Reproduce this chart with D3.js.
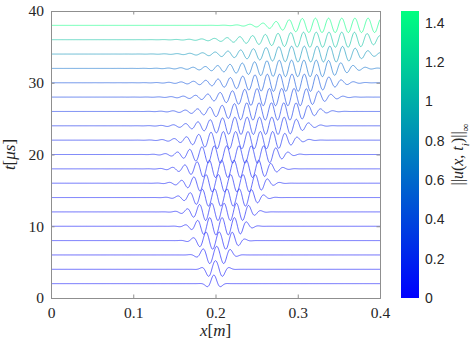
<!DOCTYPE html>
<html>
<head>
<meta charset="utf-8">
<script src="https://cdn.jsdelivr.net/npm/d3@7"></script>
<style>
  body { margin: 0; background: #fff; }
  svg { display: block; }
</style>
</head>
<body>
<svg id="chart" width="474" height="351"></svg>
<script>
// snapshot times (μs) of each trace
const times = [2, 4, 6, 8, 10, 12, 14, 16, 18, 20, 22, 24, 26, 28, 30, 32, 34, 36, 38];
// sup-norm of u for each trace (drives the colour)
const norms = [0.04, 0.04, 0.05, 0.05, 0.06, 0.07, 0.08, 0.09, 0.10, 0.12, 0.15, 0.19, 0.24, 0.31, 0.42, 0.6, 0.82, 1.1, 1.46];
// packet (m): where the full-height part starts / ends,
// how far the tails reach on each side, and the wavelength
const plateauStart = [0.198, 0.196, 0.193, 0.191, 0.191, 0.190, 0.190, 0.191, 0.193, 0.196, 0.208, 0.224, 0.242, 0.257, 0.271, 0.286, 0.300, 0.312, 0.317];
const plateauEnd = [0.198, 0.204, 0.210, 0.218, 0.225, 0.231, 0.238, 0.246, 0.252, 0.261, 0.271, 0.283, 0.294, 0.304, 0.315, 0.329, 0.347, 0.364, 0.390];
const tailLeft = [0.006, 0.0073, 0.0097, 0.0122, 0.0146, 0.017, 0.0195, 0.0219, 0.0243, 0.0268, 0.0316, 0.0365, 0.0413, 0.0462, 0.0523, 0.0572, 0.0608, 0.0608, 0.0389];
const tailRight = [0.006, 0.0073, 0.0085, 0.0097, 0.011, 0.0122, 0.0134, 0.0146, 0.0158, 0.017, 0.0195, 0.0207, 0.0219, 0.0243, 0.0255, 0.0268, 0.0292, 0.0316, 0.0365];
const wavelengths = [0.0195, 0.018, 0.017, 0.016, 0.015, 0.015, 0.015, 0.015, 0.015, 0.015, 0.015, 0.015, 0.015, 0.015, 0.015, 0.015, 0.0155, 0.0155, 0.016];
// plotted half height of each trace (t units)
const heights = [1.2, 1.2, 1.2, 1.2, 1.2, 1.2, 1.2, 1.2, 1.2, 1.2, 1.2, 1.2, 1.2, 1.2, 1.2, 1.15, 1.1, 1.05, 1.0];

const xTicks = [0, 0.1, 0.2, 0.3, 0.4];
const tTicks = [0, 10, 20, 30, 40];
const normTicks = [0, 0.2, 0.4, 0.6, 0.8, 1, 1.2, 1.4];
const normMax = 1.46;

const svg = d3.select("#chart");
const margin = { top: 11, left: 51 };
const innerW = 380 - margin.left;
const innerH = 298 - margin.top;

const x = d3.scaleLinear().domain([0, 0.4]).range([0, innerW]);
const y = d3.scaleLinear().domain([0, 40]).range([innerH, 0]);
const color = d3.scaleLinear().domain([0, normMax]).range(["#0000ff", "#00ff80"]);

const g = svg.append("g").attr("transform", `translate(${margin.left},${margin.top})`);

const axisColor = "#8f8f8f";
const serif = "'Liberation Serif', 'Times New Roman', serif";

// traces
const xs = d3.range(0, 0.4 + 1e-9, 0.0004);
const line = d3.line().x(d => x(d[0])).y(d => y(d[1]));

times.forEach((t, i) => {
    const a = plateauStart[i], b = plateauEnd[i];
    const mid = (a + b) / 2;
    const pts = xs.map(xv => {
        let env = 1;
        if (xv < a) env = Math.exp(-((xv - a) ** 2) / (2 * tailLeft[i] ** 2));
        else if (xv > b) env = Math.exp(-((xv - b) ** 2) / (2 * tailRight[i] ** 2));
        const u = heights[i] * env * Math.cos(2 * Math.PI * (xv - mid) / wavelengths[i]);
        return [xv, t + u];
    });
    g.append("path")
        .attr("d", line(pts))
        .attr("fill", "none")
        .attr("stroke", color(norms[i]))
        .attr("stroke-opacity", 0.6)
        .attr("stroke-width", 1);
});

// axes box (ticks inside, all four sides)
const tickLen = 3.5;
const axB = g.append("g").attr("transform", `translate(0,${innerH})`)
    .call(d3.axisBottom(x).tickValues(xTicks).tickSize(-tickLen).tickPadding(9).tickFormat(d3.format("")));
const axT = g.append("g")
    .call(d3.axisTop(x).tickValues(xTicks).tickSize(-tickLen).tickFormat(""));
const axL = g.append("g")
    .call(d3.axisLeft(y).tickValues(tTicks).tickSize(-tickLen).tickPadding(7));
const axR = g.append("g").attr("transform", `translate(${innerW},0)`)
    .call(d3.axisRight(y).tickValues(tTicks).tickSize(-tickLen).tickFormat(""));

[axB, axT, axL, axR].forEach(ax => {
    ax.select(".domain").attr("stroke", axisColor).attr("stroke-width", 1);
    ax.selectAll(".tick line").attr("stroke", axisColor);
    ax.selectAll(".tick text")
        .attr("fill", "#262626")
        .style("font-family", serif)
        .style("font-size", "15.5px");
});

// axis labels
g.append("text")
    .attr("x", innerW / 2)
    .attr("y", 325)
    .attr("text-anchor", "middle")
    .attr("fill", "#262626")
    .style("font-family", serif)
    .style("font-size", "17px")
    .html('<tspan font-style="italic">x</tspan>[<tspan font-style="italic">m</tspan>]');

g.append("text")
    .attr("transform", `translate(${-36},${innerH / 2}) rotate(-90)`)
    .attr("text-anchor", "middle")
    .attr("fill", "#262626")
    .style("font-family", serif)
    .style("font-size", "17px")
    .html('<tspan font-style="italic">t</tspan>[<tspan font-style="italic">μs</tspan>]');

// colorbar
const cbX = 401, cbW = 18;
const cbY = d3.scaleLinear().domain([0, normMax]).range([298, 11]);
const grad = svg.append("defs").append("linearGradient")
    .attr("id", "winter").attr("x1", 0).attr("y1", 1).attr("x2", 0).attr("y2", 0);
grad.append("stop").attr("offset", 0).attr("stop-color", color(0));
grad.append("stop").attr("offset", 1).attr("stop-color", color(normMax));

svg.append("rect")
    .attr("x", cbX).attr("y", cbY(normMax))
    .attr("width", cbW).attr("height", cbY(0) - cbY(normMax))
    .attr("fill", "url(#winter)");

const cbAxis = svg.append("g").attr("transform", `translate(${cbX + cbW},0)`)
    .call(d3.axisRight(cbY).tickValues(normTicks).tickSize(0).tickPadding(6).tickFormat(d3.format("")));
cbAxis.select(".domain").remove();
cbAxis.selectAll(".tick text")
    .attr("fill", "#262626")
    .style("font-family", "'Liberation Sans', Arial, sans-serif")
    .style("font-size", "14px");

svg.append("text")
    .attr("transform", `translate(463,${(cbY(0) + cbY(normMax)) / 2}) rotate(-90)`)
    .attr("text-anchor", "middle")
    .attr("fill", "#262626")
    .style("font-family", serif)
    .style("font-size", "16px")
    .html('||<tspan font-style="italic">u</tspan>(<tspan font-style="italic">x</tspan>, <tspan font-style="italic">t</tspan><tspan font-style="italic" baseline-shift="sub" font-size="11px">i</tspan>)||<tspan baseline-shift="sub" font-size="11px">∞</tspan>');
</script>
</body>
</html>
